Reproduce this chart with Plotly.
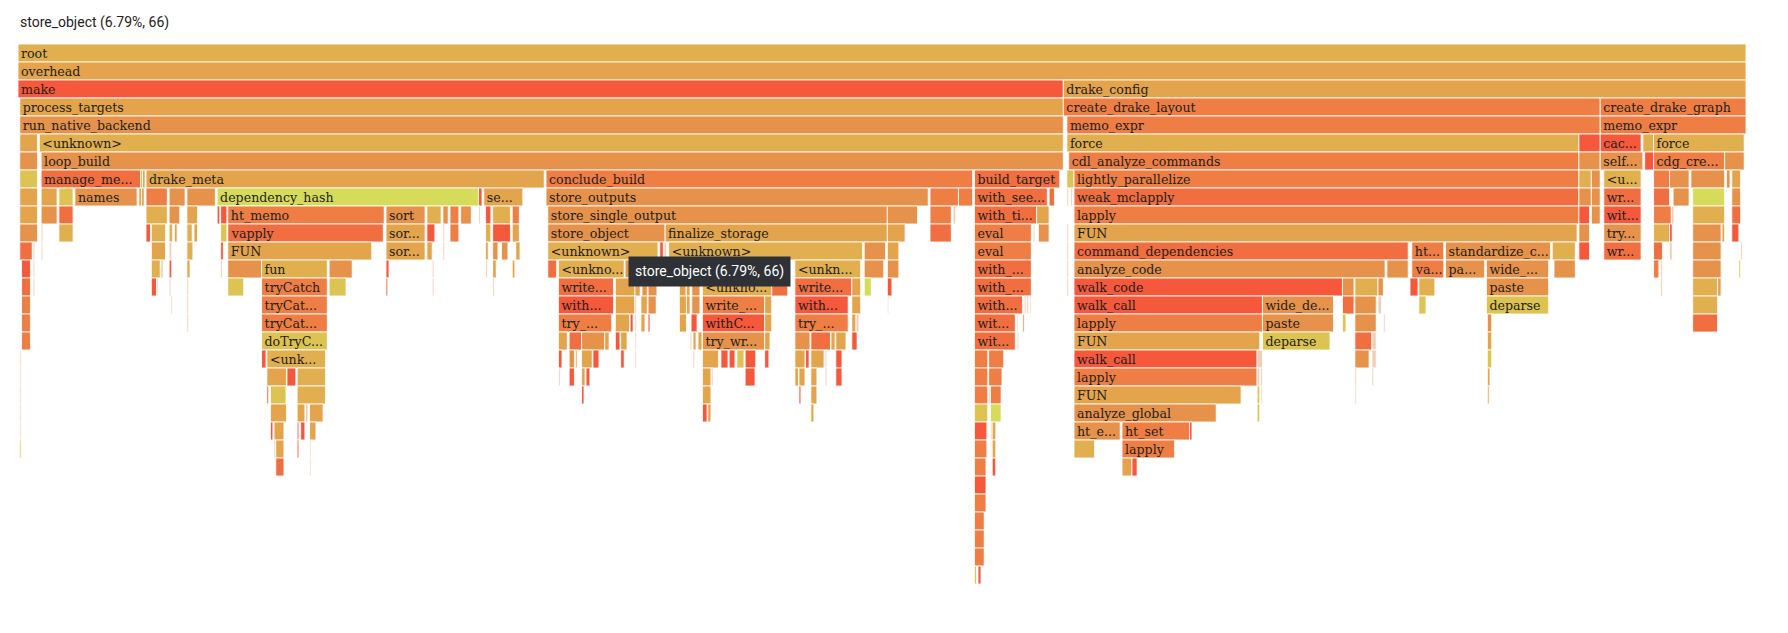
import plotly.graph_objects as go

TOTAL_SAMPLES = 972
TITLE_TEXT = "store_object (6.79%, 66)"
TOOLTIP_TEXT = "store_object (6.79%, 66)"

PALETTE = {
    "G": "#E2AF4F",  # gold
    "A": "#E3A44C",  # amber
    "O": "#E6924A",  # orange
    "D": "#EE7E44",  # dark orange
    "R": "#F06E40",  # red orange
    "X": "#F5583B",  # red
    "Y": "#DCC352",  # yellow
    "L": "#D6DC5A",  # lime
    "P": "#F2CDB6",  # pale sliver
}

# frames per stack depth: (start sample, width in samples, label, colour key)
d00 = [(0, 972, "root", "G")]
d01 = [(0, 972, "overhead", "A")]
d02 = [(0, 588, "make", "X"), (588, 384, "drake_config", "A")]
d03 = [(1, 587, "process_targets", "A"), (588, 302, "create_drake_layout", "D"),
       (890, 82, "create_drake_graph", "D")]
d04 = [(1, 587, "run_native_backend", "O"), (590, 300, "memo_expr", "D"),
       (890, 82, "memo_expr", "D")]
d05 = [(1, 10, "", "A"), (12, 576, "<unknown>", "G"), (590, 288, "force", "G"),
       (878, 12, "", "X"), (890, 23, "cac...", "X"), (914, 6, "", "G"), (920, 51, "force", "G")]
d06 = [(1, 10, "", "O"), (13, 575, "loop_build", "O"), (591, 287, "cdl_analyze_commands", "D"),
       (878, 12, "", "O"), (890, 24, "self...", "O"), (915, 5, "", "X"),
       (920, 40, "cdg_cre...", "D"), (960, 11, "", "O")]
d07 = [(1, 10, "", "Y"), (13, 56, "manage_me...", "R"), (69, 1, "", "A"), (70, 1.5, "", "A"),
       (72, 224, "drake_meta", "A"), (297, 240, "conclude_build", "D"),
       (538, 48, "build_target", "R"), (590, 4, "", "Y"), (594, 284, "lightly_parallelize", "D"),
       (878, 7, "", "G"), (885, 5, "", "O"), (892, 21, "<u...", "G"), (920, 9, "", "D"),
       (929, 11, "", "O"), (941, 19, "", "O"), (961, 2, "", "O"), (964, 5, "", "A")]
d08 = [(1, 10, "", "A"), (13, 9, "", "A"), (23, 8, "", "Y"), (32, 35, "names", "O"),
       (68, 1.5, "", "A"), (69.5, 1.5, "", "A"), (72, 12, "", "D"), (85, 9, "", "O"),
       (95, 16, "", "O"), (112, 147, "dependency_hash", "L"), (259, 2, "", "X"),
       (262, 22, "se...", "A"), (297, 215, "store_outputs", "O"), (513, 16, "", "D"),
       (529, 8, "", "D"), (538, 41, "with_see...", "R"), (580, 3, "", "R"),
       (590, 1, "", "P"), (592, 1, "", "P"), (594, 284, "weak_mclapply", "R"),
       (878, 7, "", "O"), (885, 5, "", "O"), (892, 21, "wr...", "R"), (920, 9, "", "R"),
       (931, 9, "", "O"), (942, 18, "", "L"), (964, 5, "", "O")]
d09 = [(1, 10, "", "A"), (13, 9, "", "O"), (23, 8, "", "R"), (72, 12, "", "G"), (85, 6, "", "O"),
       (95, 6, "", "A"), (112, 1.5, "", "X"), (114, 3.5, "", "X"), (118, 88, "ht_memo", "D"),
       (207, 22, "sort", "O"), (230, 8, "", "G"), (239, 3, "", "O"), (243, 5, "", "D"),
       (249, 6, "", "O"), (259, 1, "", "P"), (263, 3, "", "X"), (267, 10, "", "G"),
       (278, 4, "", "D"), (298, 191, "store_single_output", "O"), (489, 17, "", "O"),
       (513, 12, "", "D"), (526, 1.5, "", "P"), (538, 35, "with_ti...", "R"), (573, 7, "", "A"),
       (594, 284, "lapply", "D"), (878, 6, "", "X"), (885, 5, "", "O"), (892, 21, "wit...", "X"),
       (920, 10, "", "D"), (930, 1.5, "", "P"), (942, 18, "", "G"), (964, 5, "", "R")]
d10 = [(1, 10, "", "O"), (13, 1, "", "P"), (23, 8, "", "G"), (72, 2.5, "", "X"), (75, 8, "", "G"),
       (85, 2, "", "G"), (88, 1.5, "", "A"), (95, 3, "", "G"), (99, 2, "", "A"), (114, 3.5, "", "Y"),
       (118, 87.5, "vapply", "R"), (207, 22, "sor...", "A"), (230, 4.5, "", "X"),
       (239, 1, "", "P"), (243, 5, "", "D"), (263, 3, "", "G"), (267, 10, "", "X"),
       (278, 4, "", "A"), (298, 66, "store_object", "O"), (364, 125, "finalize_storage", "A"),
       (489, 10, "", "A"), (513, 12, "", "R"), (538, 32, "eval", "D"), (571, 1, "", "P"),
       (574, 6, "", "O"), (590, 1, "", "P"), (594, 283, "FUN", "A"), (878, 6, "", "O"),
       (892, 21, "try...", "O"), (920, 9, "", "G"), (929, 1.5, "", "X"), (942, 16, "", "O"),
       (958.5, 1.5, "", "A"), (964, 4, "", "X")]
d11 = [(1, 7, "", "R"), (8.5, 1, "", "P"), (13, 1, "", "P"), (75, 8, "", "A"), (85, 1.5, "", "P"),
       (95, 3.4, "", "G"), (114, 1.5, "", "X"), (118, 81, "FUN", "A"), (207, 22, "sor...", "A"),
       (230, 3, "", "A"), (239, 1, "", "P"), (263, 1.5, "", "A"), (267, 3, "", "O"),
       (272, 3.6, "", "O"), (280, 2.4, "", "A"), (298, 62, "<unknown>", "G"), (361, 2, "", "X"),
       (363.4, 1.5, "", "P"), (366, 109, "<unknown>", "G"), (476, 12, "", "O"),
       (489, 6.5, "", "A"), (538, 32, "eval", "D"), (590, 1, "", "P"),
       (594, 188, "command_dependencies", "R"), (784, 18, "ht...", "D"),
       (803, 59, "standardize_c...", "O"), (863, 13, "", "G"), (878, 6, "", "X"),
       (892, 21, "wr...", "R"), (920, 5, "", "R"), (929, 1.5, "", "P"), (942, 16, "", "O"),
       (969, 1, "", "P")]
d12 = [(2, 5, "", "X"), (8.5, 1, "", "P"), (75, 5, "", "G"), (80.5, 1, "", "A"), (85, 1.5, "", "X"),
       (95, 1.75, "", "A"), (114, 1, "", "P"), (118, 19, "", "O"), (137, 37, "fun", "G"),
       (175, 13, "", "O"), (207, 1.7, "", "X"), (233, 1, "", "P"), (263, 1, "", "P"),
       (267, 2, "", "A"), (278, 1.5, "", "A"), (298, 5, "", "R"), (304, 37, "<unkno...", "G"),
       (341.5, 18.5, "", "O"), (366, 6, "", "G"), (372, 61, "", "G"), (437, 37, "<unkn...", "G"),
       (476, 11, "", "O"), (489, 6.5, "", "O"), (538, 32, "with_...", "R"), (590, 1, "", "P"),
       (594, 175, "analyze_code", "O"), (770, 12, "", "O"), (784, 18, "va...", "D"),
       (803, 22, "pa...", "O"), (826, 35, "wide_...", "O"), (864, 12, "", "O"),
       (920, 3, "", "D"), (924, 1, "", "P"), (942, 16, "", "O"), (968, 1, "", "Y")]
d13 = [(2, 5, "", "R"), (8.5, 1, "", "P"), (75, 3, "", "X"), (78, 0.8, "", "P"), (85, 1, "", "P"),
       (95, 1, "", "P"), (118, 9, "", "Y"), (137, 37, "tryCatch", "D"), (175, 9.5, "", "Y"),
       (207, 1, "", "X"), (233, 1, "", "P"), (267, 1, "", "P"), (304, 31, "write...", "R"),
       (336, 11, "", "A"), (347, 3, "", "A"), (351, 3, "", "O"), (354.4, 5, "", "O"),
       (372, 3.75, "", "A"), (376, 2, "", "A"), (379, 4.6, "", "O"), (385, 39, "<unkno...", "G"),
       (424, 9, "", "R"), (437, 32, "write...", "R"), (469, 5, "", "A"), (476, 4, "", "L"),
       (489, 2.6, "", "X"), (538, 32, "with_...", "R"), (590, 1, "", "P"),
       (594, 151, "walk_code", "X"), (745, 6.5, "", "O"), (752, 13, "", "G"), (765, 3, "", "O"),
       (783, 4.5, "", "X"), (788, 9, "", "G"), (826, 35, "paste", "O"), (924, 1, "", "P"),
       (942, 14, "", "G"), (956, 2, "", "A")]
d14 = [(2, 5, "", "D"), (86, 0.8, "", "P"), (95, 1, "", "P"), (137, 37, "tryCat...", "D"),
       (304, 31, "with...", "X"), (336, 11, "", "A"), (347, 1, "", "P"), (350.4, 3.6, "", "A"),
       (354.4, 4.6, "", "O"), (372, 4, "", "A"), (376, 2, "", "A"), (379, 4.6, "", "O"),
       (385, 35, "write_...", "D"), (420, 4, "", "A"), (437, 30, "with...", "X"),
       (469, 5, "", "A"), (489, 0.8, "", "P"), (538, 27, "with...", "R"), (566, 1, "", "P"),
       (567.5, 1, "", "P"), (569, 0.8, "", "P"), (594, 106, "walk_call", "X"),
       (700, 40, "wide_de...", "O"), (745, 6.5, "", "R"), (752, 12, "", "O"), (765, 2, "", "P"),
       (788, 4, "", "Y"), (826, 35, "deparse", "Y"), (942, 14, "", "G")]
d15 = [(2, 5, "", "D"), (95, 1, "", "P"), (137, 37, "tryCat...", "D"), (304, 30, "try_...", "D"),
       (336, 8, "", "A"), (344.3, 1.7, "", "X"), (347, 1, "", "P"), (350.4, 2.3, "", "A"),
       (354.4, 1.1, "", "X"), (372, 4, "", "A"), (378.6, 3.4, "", "X"), (385, 35, "withC...", "X"),
       (420, 4, "", "A"), (437, 30, "try_...", "D"), (469, 2.4, "", "A"), (471.4, 1.6, "", "P"),
       (538, 23, "wit...", "R"), (562, 0.8, "", "P"), (565, 1, "", "A"), (594, 106, "lapply", "D"),
       (700, 40, "paste", "O"), (745, 2, "", "Y"), (752, 12, "", "O"), (768, 1, "", "P"),
       (826.5, 2.5, "", "O"), (942, 14, "", "R")]
d16 = [(2, 5, "", "D"), (137, 37, "doTryC...", "Y"), (304, 5, "", "A"), (310, 7, "", "R"),
       (317, 13, "", "O"), (330, 2.5, "", "A"), (336, 2.6, "", "X"), (339, 3.6, "", "A"),
       (347, 0.8, "", "P"), (378, 1, "", "P"), (379.7, 1.7, "", "A"), (382.5, 2.25, "", "A"),
       (385, 35, "try_wr...", "O"), (420, 3, "", "A"), (437, 8.5, "", "O"), (446, 11, "", "R"),
       (457.3, 2.3, "", "A"), (460, 5.75, "", "A"), (469, 3, "", "X"), (538, 23, "wit...", "R"),
       (562, 1, "", "P"), (594, 104.5, "FUN", "A"), (700, 38, "deparse", "Y"),
       (752, 9.6, "", "R"), (761.6, 2.4, "", "P"), (826.5, 2.5, "", "A")]
d17 = [(1, 0.8, "", "P"), (137, 2.5, "", "X"), (140, 33, "<unk...", "G"), (304, 2, "", "X"),
       (310, 3, "", "O"), (313.5, 1, "", "A"), (317, 6, "", "A"), (323.4, 3.4, "", "X"),
       (339, 2, "", "X"), (347, 0.8, "", "P"), (379.7, 1, "", "P"), (385, 9, "", "A"),
       (395.4, 4, "", "X"), (400, 3.3, "", "X"), (404.4, 4, "", "Y"), (409, 6, "", "X"),
       (420, 2.4, "", "X"), (437, 5.7, "", "A"), (443, 2, "", "X"), (446, 7.4, "", "A"),
       (454, 1, "", "P"), (460, 3.5, "", "X"), (538, 7.5, "", "D"), (546, 8.5, "", "D"),
       (594, 103, "walk_call", "X"), (697, 3, "", "P"), (752, 8, "", "O"), (761.6, 2.4, "", "P"),
       (826.5, 2.5, "", "Y")]
d18 = [(1, 0.8, "", "P"), (140, 11, "", "A"), (151.3, 5, "", "X"), (157, 16, "", "G"),
       (304, 1, "", "P"), (310, 3, "", "X"), (317, 2, "", "A"), (319.5, 2.2, "", "X"),
       (385, 4.8, "", "A"), (390, 1, "", "P"), (409, 5.6, "", "X"), (437, 2, "", "A"),
       (439.3, 3.4, "", "A"), (446, 3.4, "", "A"), (454, 1, "", "P"), (460, 3.5, "", "X"),
       (538, 7.5, "", "D"), (546, 7.5, "", "D"), (594, 103, "lapply", "D"), (697, 1.5, "", "P"),
       (699, 1, "", "P"), (752, 1, "", "P"), (761.6, 1, "", "P"), (826.5, 1.5, "", "A")]
d19 = [(1, 0.8, "", "P"), (140, 1, "", "X"), (142, 8.75, "", "Y"), (157, 16, "", "G"),
       (317, 1.4, "", "X"), (385, 4.8, "", "A"), (439.3, 1.1, "", "X"), (446, 3.4, "", "A"),
       (538, 7.5, "", "D"), (546, 0.8, "", "P"), (547, 6, "", "D"), (594, 94, "FUN", "A"),
       (697, 1.5, "", "Y"), (699, 0.8, "", "P"), (752, 0.8, "", "P"), (826.5, 1, "", "A")]
d20 = [(1, 0.8, "", "P"), (142, 9, "", "A"), (157, 4.4, "", "A"), (162, 1, "", "A"),
       (164, 7.6, "", "A"), (385, 2.6, "", "X"), (388, 1.8, "", "A"), (446, 1.7, "", "A"),
       (538, 7.5, "", "Y"), (547, 6, "", "L"), (594, 80, "analyze_global", "O"),
       (697, 1.5, "", "Y")]
d21 = [(1, 0.8, "", "P"), (142, 1.4, "", "X"), (144, 5.6, "", "A"), (157, 1, "", "X"),
       (159, 2.4, "", "X"), (164, 3.6, "", "A"), (538, 7, "", "X"), (547, 1, "", "P"),
       (548, 2, "", "A"), (594, 26, "ht_e...", "O"), (621, 38, "ht_set", "D"), (659, 1.4, "", "X")]
d22 = [(1, 0.8, "", "Y"), (144, 1, "", "P"), (145, 4.6, "", "A"), (157, 1, "", "X"),
       (164, 0.8, "", "P"), (538, 7, "", "D"), (547, 0.6, "", "P"), (548, 2, "", "A"),
       (594, 11.6, "", "G"), (621, 29.6, "lapply", "D")]
d23 = [(145, 4.6, "", "R"), (164, 0.8, "", "P"), (538, 6.5, "", "D"), (548, 2, "", "X"),
       (621, 5.6, "", "A"), (626.6, 2.9, "", "X")]
d24 = [(538, 6.5, "", "X")]
d25 = [(538, 6.5, "", "D")]
d26 = [(538, 5.5, "", "D")]
d27 = [(538, 5.5, "", "D")]
d28 = [(538, 5.5, "", "D")]
d29 = [(538, 1.2, "", "Y"), (540, 1.7, "", "X")]

STACK = [d00, d01, d02, d03, d04, d05, d06, d07, d08, d09, d10, d11, d12, d13, d14,
         d15, d16, d17, d18, d19, d20, d21, d22, d23, d24, d25, d26, d27, d28, d29]

depths, starts, widths, labels, colors = [], [], [], [], []
for depth, row in enumerate(STACK):
    for start, width, label, ckey in row:
        depths.append(depth)
        starts.append(start)
        widths.append(width)
        labels.append(label)
        colors.append(PALETTE[ckey])

# the page body adds an 8px margin, so the figure is 8px smaller than the window
W, H = 1780, 625
ML, MR, MT, MB = 10, 42, 36, 0
ROW_PX = 18
plot_w = W - ML - MR
plot_h = H - MT - MB
y_bottom = -0.5 + plot_h / ROW_PX

fig = go.Figure(go.Bar(
    orientation="h",
    y=depths,
    x=widths,
    base=starts,
    width=1,
    text=labels,
    textposition="inside",
    insidetextanchor="start",
    textangle=0,
    textfont=dict(family="DejaVu Serif", size=12.6, color="#1e1e1e"),
    marker=dict(color=colors, line=dict(color="rgba(255,255,255,0.85)", width=1)),
    hoverinfo="skip",
))

fig.update_layout(
    width=W, height=H,
    margin=dict(l=ML, r=MR, t=MT, b=MB),
    paper_bgcolor="white", plot_bgcolor="white",
    showlegend=False,
    barmode="overlay",
    uniformtext=dict(minsize=12.6, mode="show"),
    xaxis=dict(range=[0, TOTAL_SAMPLES], visible=False, fixedrange=True),
    yaxis=dict(range=[y_bottom, -0.5], visible=False, fixedrange=True),
    annotations=[
        dict(text=TITLE_TEXT, xref="paper", yref="paper", x=0, y=1 + (MT - 14) / plot_h,
             xanchor="left", yanchor="middle", showarrow=False,
             font=dict(family="Roboto", size=14, color="#222222")),
        dict(text=TOOLTIP_TEXT, xref="paper", yref="paper",
             x=(620 - ML) / plot_w, y=1 - (263.5 - MT) / plot_h,
             xanchor="left", yanchor="middle", showarrow=False,
             bgcolor="#2e3236", borderpad=6,
             font=dict(family="Roboto", size=14, color="white")),
    ],
)

fig.write_html("out.html")
